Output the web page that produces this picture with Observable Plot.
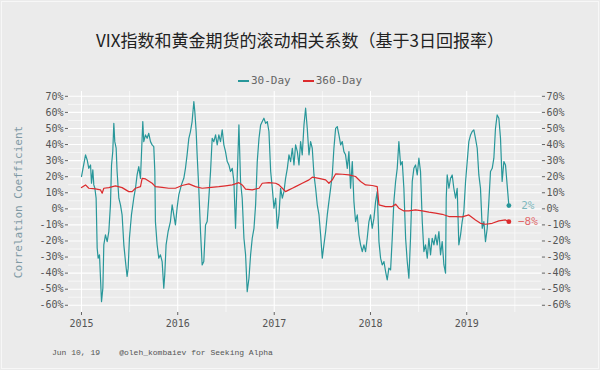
<!DOCTYPE html>
<html>
<head>
<meta charset="utf-8">
<script src="https://cdn.jsdelivr.net/npm/d3@7"></script>
<script src="https://cdn.jsdelivr.net/npm/@observablehq/plot@0.6"></script>
<style>
  html, body { margin: 0; padding: 0; }
  body { width: 600px; height: 370px; background: #ebebeb; position: relative; overflow: hidden; }
  #frame { position: absolute; left: 1px; top: 1px; width: 596px; height: 366px; border: 1px solid #f7f7f7; }
  #title { position: absolute; left: 0; top: 28px; width: 600px; text-align: center;
           font-family: "Noto Sans CJK SC", "Noto Sans", sans-serif; font-size: 17px; color: #222; line-height: 24px; }
  #legend { position: absolute; left: 0; top: 73px; width: 600px; text-align: center;
            font-family: "DejaVu Sans Mono", monospace; font-size: 11px; color: #666; line-height: 16px; }
  #legend span.sw { display: inline-block; width: 11px; height: 2px; vertical-align: middle; margin-right: 2px; }
  #legend span.item { margin: 0 6px; }
  #chart { position: absolute; left: 0; top: 86px; }
  #footer { position: absolute; left: 52px; top: 348px; font-family: "Liberation Mono", "Courier New", monospace;
            font-size: 8px; color: #555; white-space: pre; }
</style>
</head>
<body>
<div id="frame"></div>
<div id="title">VIX指数和黄金期货的滚动相关系数（基于3日回报率）</div>
<div id="legend"></div>
<div id="chart"></div>
<div id="footer">Jun 10, 19    @oleh_kombaiev for Seeking Alpha</div>
<script>
// ---- data (decimal years, correlation in %) ----
const seriesNames = ["30-Day", "360-Day"];
const seriesColors = ["#28979a", "#dc2b2d"];
const labelColors = ["#7fb9be", "#e2696b"];

const t30 = [2015.000,2015.042,2015.059,2015.076,2015.094,2015.104,2015.118,2015.128,2015.139,2015.152,2015.163,2015.173,2015.187,2015.208,2015.222,2015.232,2015.249,2015.267,2015.284,2015.301,2015.312,2015.325,2015.336,2015.346,2015.360,2015.370,2015.388,2015.405,2015.422,2015.440,2015.457,2015.474,2015.485,2015.498,2015.519,2015.543,2015.561,2015.578,2015.595,2015.613,2015.623,2015.637,2015.647,2015.665,2015.682,2015.699,2015.717,2015.734,2015.751,2015.762,2015.768,2015.786,2015.803,2015.820,2015.838,2015.855,2015.865,2015.879,2015.900,2015.924,2015.942,2015.959,2015.976,2015.993,2016.011,2016.038,2016.063,2016.080,2016.097,2016.115,2016.132,2016.149,2016.167,2016.177,2016.191,2016.201,2016.218,2016.236,2016.253,2016.270,2016.288,2016.305,2016.322,2016.340,2016.357,2016.374,2016.392,2016.409,2016.426,2016.443,2016.461,2016.478,2016.495,2016.513,2016.530,2016.547,2016.565,2016.582,2016.599,2016.617,2016.634,2016.651,2016.668,2016.686,2016.703,2016.720,2016.738,2016.755,2016.772,2016.790,2016.807,2016.824,2016.842,2016.859,2016.876,2016.893,2016.911,2016.928,2016.945,2016.963,2016.980,2016.997,2017.015,2017.032,2017.049,2017.066,2017.084,2017.101,2017.118,2017.136,2017.153,2017.170,2017.188,2017.205,2017.222,2017.240,2017.257,2017.274,2017.291,2017.309,2017.326,2017.343,2017.361,2017.378,2017.395,2017.413,2017.430,2017.447,2017.465,2017.482,2017.499,2017.516,2017.534,2017.551,2017.568,2017.586,2017.603,2017.620,2017.638,2017.655,2017.672,2017.690,2017.707,2017.724,2017.741,2017.759,2017.776,2017.793,2017.811,2017.828,2017.845,2017.863,2017.880,2017.897,2017.915,2017.932,2017.949,2017.966,2017.984,2018.001,2018.018,2018.036,2018.053,2018.070,2018.088,2018.105,2018.122,2018.140,2018.157,2018.174,2018.191,2018.209,2018.226,2018.243,2018.261,2018.278,2018.295,2018.313,2018.330,2018.347,2018.365,2018.382,2018.399,2018.416,2018.434,2018.451,2018.468,2018.486,2018.503,2018.520,2018.538,2018.555,2018.572,2018.590,2018.607,2018.624,2018.641,2018.659,2018.676,2018.693,2018.711,2018.728,2018.745,2018.763,2018.780,2018.787,2018.797,2018.815,2018.832,2018.849,2018.866,2018.884,2018.901,2018.918,2018.936,2018.953,2018.970,2018.988,2019.005,2019.022,2019.040,2019.057,2019.074,2019.091,2019.109,2019.126,2019.143,2019.161,2019.178,2019.195,2019.213,2019.230,2019.247,2019.265,2019.282,2019.299,2019.316,2019.334,2019.351,2019.368,2019.386,2019.403,2019.420,2019.438];
const v30 = [20.1,33.6,30.4,25.2,27.3,16.0,24.2,14.9,12.8,6.6,-24.5,-30.7,-28.6,-57.7,-49.4,-22.4,-16.2,-20.4,-14.1,2.5,27.3,35.6,53.2,41.8,37.7,23.2,6.6,2.5,-3.8,-22.4,-32.8,-42.1,-36.9,-18.3,-3.8,6.6,12.8,21.1,26.3,19.0,33.6,54.3,41.8,46.0,43.9,47.0,41.8,39.8,38.7,23.2,-7.9,-22.4,-30.7,-28.6,-32.8,-49.4,-41.1,-22.4,-14.1,-7.9,2.5,-3.8,-10.0,0.4,8.7,14.9,19.0,25.2,33.6,43.9,48.1,54.3,66.7,60.5,48.1,33.6,12.8,-14.1,-34.9,-32.8,-10.0,-7.9,6.6,23.2,43.9,41.8,46.0,39.8,46.0,41.8,49.1,39.8,35.6,29.4,27.3,23.2,25.2,17.0,-12.1,21.1,52.2,17.0,6.6,-18.3,-28.6,-51.5,-43.2,-28.6,-18.3,-12.1,2.5,29.4,43.9,52.2,54.3,56.4,53.2,54.3,48.1,23.2,12.8,0.4,6.6,-12.1,-3.8,12.8,6.6,10.7,19.0,25.2,33.6,29.4,37.7,27.3,39.8,35.6,27.3,41.8,33.6,52.2,62.6,50.1,33.6,41.8,37.7,21.1,12.8,2.5,-3.8,-16.2,-30.7,-22.4,-14.1,-3.8,4.5,12.8,21.1,37.7,50.1,51.2,46.0,39.8,41.8,35.6,33.6,25.2,35.6,12.8,29.4,4.5,-7.9,-3.8,-16.2,-22.4,-26.6,-22.4,-26.6,-18.3,-7.9,-3.8,-12.1,-5.8,4.5,10.7,-20.4,-30.7,-34.9,-32.8,-39.0,-44.2,-36.9,-38.0,-18.3,4.5,17.0,25.2,41.8,27.3,29.4,12.8,-18.3,-32.8,-43.2,-18.3,17.0,25.2,27.3,21.1,31.5,23.2,-7.9,-26.6,-22.4,-30.7,-18.3,-28.6,-18.3,-22.4,-16.2,-22.4,-14.1,-28.6,-20.4,-34.9,-40.0,6.6,21.1,12.8,19.0,21.1,12.8,6.6,12.8,-22.4,-16.2,-7.9,-1.7,17.0,29.4,41.8,46.0,48.1,49.1,43.9,37.7,21.1,12.8,-12.1,-7.9,-20.4,-12.1,4.5,23.2,25.2,31.5,50.1,58.4,56.4,43.9,17.0,29.4,27.3,14.9,2.0];

const t360 = [2015.000,2015.042,2015.076,2015.145,2015.197,2015.215,2015.232,2015.284,2015.353,2015.422,2015.491,2015.526,2015.561,2015.613,2015.630,2015.665,2015.734,2015.768,2015.838,2015.907,2015.976,2016.045,2016.115,2016.184,2016.253,2016.322,2016.426,2016.495,2016.565,2016.634,2016.668,2016.703,2016.772,2016.842,2016.876,2016.945,2017.015,2017.049,2017.084,2017.118,2017.153,2017.188,2017.222,2017.291,2017.361,2017.395,2017.464,2017.534,2017.568,2017.603,2017.638,2017.707,2017.776,2017.845,2017.897,2017.949,2018.018,2018.070,2018.088,2018.157,2018.226,2018.261,2018.295,2018.347,2018.399,2018.468,2018.538,2018.607,2018.676,2018.745,2018.815,2018.884,2018.953,2019.022,2019.091,2019.143,2019.195,2019.265,2019.334,2019.403,2019.438];
const v360 = [13.2,14.9,12.8,12.4,11.8,9.7,12.8,13.2,14.3,13.2,10.7,10.7,12.8,13.8,19.0,18.6,15.9,13.8,13.4,12.8,12.8,14.5,15.5,13.8,12.8,13.2,13.8,14.3,14.9,16.3,14.9,12.2,11.8,12.8,15.9,16.3,15.9,14.9,12.8,10.7,11.8,12.8,13.8,15.9,18.0,19.7,19.0,18.0,15.9,18.0,21.7,21.5,21.1,20.1,17.0,14.9,14.5,13.8,2.5,1.4,1.4,2.9,0.4,-1.3,-1.3,-0.7,-1.3,-2.1,-2.7,-3.4,-4.8,-4.8,-5.0,-3.8,-6.9,-9.0,-9.6,-9.0,-7.5,-6.9,-8.0];

const yTicks = [70,60,50,40,30,20,10,0,-10,-20,-30,-40,-50,-60];
const yMinor = [65,55,45,35,25,15,5,-5,-15,-25,-35,-45,-55];
const xTickYears = [2015,2016,2017,2018,2019];
const xMinorYears = [2015.5,2016.5,2017.5,2018.5,2019.5];
const xDomainYears = [2014.865, 2019.777];
const yDomain = [-64.5, 73];

// ---- helpers ----
function decToDate(t) {
  const y = Math.floor(t);
  const a = Date.UTC(y, 0, 1), b = Date.UTC(y + 1, 0, 1);
  return new Date(a + (t - y) * (b - a));
}
const rows = [];
t30.forEach((t, i) => rows.push({date: decToDate(t), value: v30[i], series: seriesNames[0]}));
t360.forEach((t, i) => rows.push({date: decToDate(t), value: v360[i], series: seriesNames[1]}));
const lastPts = [
  {date: decToDate(t30[t30.length - 1]), value: v30[v30.length - 1], series: seriesNames[0], lc: labelColors[0], c: seriesColors[0]},
  {date: decToDate(t360[t360.length - 1]), value: v360[v360.length - 1], series: seriesNames[1], lc: labelColors[1], c: seriesColors[1]}
];

// legend
document.getElementById("legend").innerHTML = seriesNames.map((n, i) =>
  `<span class="item"><span class="sw" style="background:${seriesColors[i]}"></span>${n}</span>`).join("");

const pct = d => d + "%";
const tickStyle = {fontSize: 10, tickSize: 3, tickPadding: 2, stroke: "#666", color: "#555"};

const chart = Plot.plot({
  width: 600,
  height: 250,
  marginLeft: 68,
  marginRight: 59,
  marginTop: 5,
  marginBottom: 24,
  style: {background: "transparent", fontFamily: "DejaVu Sans Mono, monospace", fontSize: "10px", color: "#555"},
  x: {type: "utc", domain: xDomainYears.map(decToDate)},
  y: {domain: yDomain},
  color: {domain: seriesNames, range: seriesColors},
  marks: [
    Plot.ruleY(yMinor, {stroke: "#ffffff", strokeWidth: 0.6}),
    Plot.ruleY(yTicks, {stroke: "#ffffff", strokeWidth: 1.1}),
    Plot.ruleX(xMinorYears.map(decToDate), {stroke: "#ffffff", strokeWidth: 0.6}),
    Plot.ruleX(xTickYears.map(decToDate), {stroke: "#ffffff", strokeWidth: 1.1}),
    Plot.axisY({anchor: "left", ticks: yTicks, tickFormat: pct, label: null, fontSize: 10, tickSize: 3, tickPadding: 2, stroke: "#666", fill: "#555"}),
    Plot.axisY({anchor: "right", ticks: yTicks, tickFormat: pct, label: null, fontSize: 10, tickSize: 3, tickPadding: 2, stroke: "#666", fill: "#555"}),
    Plot.axisX({ticks: xTickYears.map(decToDate), tickFormat: d3.utcFormat("%Y"), label: null, fontSize: 10, tickSize: 3, tickPadding: 4, stroke: "#666", fill: "#555"}),
    Plot.text(["Correlation Coefficient"], {frameAnchor: "left", dx: -50, rotate: -90, textAnchor: "middle", fill: "#7f9aa5", fontSize: 11}),
    Plot.line(rows, {x: "date", y: "value", z: "series", stroke: "series", strokeWidth: 1.2}),
    Plot.dot(lastPts, {x: "date", y: "value", fill: "c", r: 2.4}),
    Plot.text(lastPts, {x: "date", y: "value", text: d => d3.format(".0f")(d.value) + "%", fill: "lc", dx: 19, textAnchor: "middle", fontSize: 11})
  ]
});
document.getElementById("chart").appendChild(chart);
</script>
</body>
</html>
